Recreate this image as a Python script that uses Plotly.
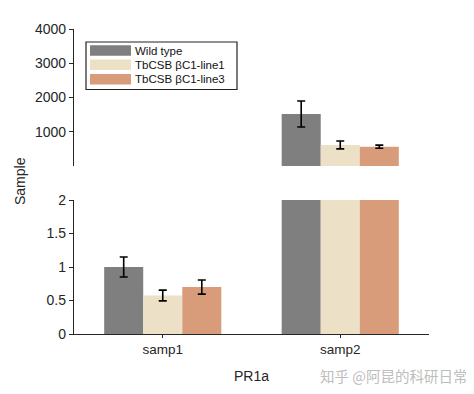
import plotly.graph_objects as go

categories = ["samp1", "samp2"]
series_names = ["Wild type", "TbCSB βC1-line1", "TbCSB βC1-line3"]
wild_type = [1.0, 1520]
line1 = [0.575, 615]
line3 = [0.70, 565]
wild_type_err = [0.15, 380]
line1_err = [0.08, 115]
line3_err = [0.105, 45]
colors = ["#7f7f7f", "#ece0c6", "#d99c7b"]

top_ticks = [1000, 2000, 3000, 4000]
bottom_ticks = [0, 0.5, 1, 1.5, 2]
bottom_ticktext = ["0", "0.5", "1", "1.5", "2"]

# page body has an 8px default margin: work in reference pixel coords, shift by OFF
OFF = 8
W, H = 474 - OFF, 394 - OFF
ML = 74 - OFF
MT = 29 - OFF
MR = W - (429 - OFF)
MB = H - (334 - OFF)
PW, PH = W - ML - MR, H - MT - MB

def px(x):
    return (x - OFF - ML) / PW

def py(y):
    return (H - MB - (y - OFF)) / PH

FONT = "Arial, Liberation Sans, Helvetica, sans-serif"
TXT = "#262626"

fig = go.Figure()
values = [wild_type, line1, line3]
errs = [wild_type_err, line1_err, line3_err]

for name, v, e, c in zip(series_names, values, errs, colors):
    fig.add_trace(go.Bar(
        x=categories, y=v, name=name, marker=dict(color=c, line=dict(width=0)),
        error_y=dict(type="data", array=e, color="black", thickness=1.6, width=4),
        xaxis="x", yaxis="y", showlegend=False, offsetgroup=name))
    vt = [val if val > 2 else None for val in v]
    et = [er if val > 2 else None for val, er in zip(v, e)]
    fig.add_trace(go.Bar(
        x=categories, y=vt, name=name, marker=dict(color=c, line=dict(width=0)),
        error_y=dict(type="data", array=et, color="black", thickness=1.6, width=4),
        xaxis="x2", yaxis="y2", showlegend=False, offsetgroup=name))

top_dom = [py(166), 1.0]
bot_dom = [0.0, py(200)]

fig.update_layout(
    width=W, height=H,
    margin=dict(l=ML, r=MR, t=MT, b=MB),
    paper_bgcolor="white", plot_bgcolor="white",
    barmode="group", bargap=0.34, bargroupgap=0,
    font=dict(family=FONT, size=13, color=TXT),
    xaxis=dict(type="category", categoryarray=categories, range=[-0.5, 1.5],
               showline=True, linecolor=TXT, linewidth=1.3,
               ticks="outside", ticklen=3, tickcolor=TXT,
               tickfont=dict(size=13.5, color=TXT), showgrid=False, zeroline=False,
               anchor="y",
               title=dict(text="PR1a", font=dict(size=14, color=TXT), standoff=14)),
    xaxis2=dict(type="category", categoryarray=categories, range=[-0.5, 1.5],
                matches="x", showline=False, showticklabels=False, ticks="",
                showgrid=False, zeroline=False, anchor="y2"),
    yaxis=dict(domain=bot_dom, range=[0, 2], tickvals=bottom_ticks, ticktext=bottom_ticktext,
               showline=True, linecolor=TXT, linewidth=1.3, ticks="outside", ticklen=4,
               tickcolor=TXT, tickfont=dict(size=14, color=TXT),
               showgrid=False, zeroline=False, anchor="x"),
    yaxis2=dict(domain=top_dom, range=[0, 4000], tickvals=top_ticks,
                showline=True, linecolor=TXT, linewidth=1.3, ticks="outside", ticklen=4,
                tickcolor=TXT, tickfont=dict(size=14, color=TXT),
                showgrid=False, zeroline=False, anchor="x2"),
)

fig.add_annotation(text="Sample", xref="paper", yref="paper", x=px(20), y=py(181),
                   textangle=-90, showarrow=False, font=dict(size=14, color=TXT),
                   xanchor="center", yanchor="middle")

fig.add_shape(type="rect", xref="paper", yref="paper",
              x0=px(86), x1=px(237), y0=py(89.5), y1=py(42),
              line=dict(color="#222222", width=1.2), fillcolor="white", layer="above")
row_centers = [50.5, 64.7, 79.2]
for name, c, yc in zip(series_names, colors, row_centers):
    fig.add_shape(type="rect", xref="paper", yref="paper",
                  x0=px(90), x1=px(131), y0=py(yc + 5.2), y1=py(yc - 5.2),
                  line=dict(width=0), fillcolor=c, layer="above")
    fig.add_annotation(text=name, xref="paper", yref="paper", x=px(133), y=py(yc),
                       xanchor="left", yanchor="middle", showarrow=False,
                       font=dict(size=11.5, color="#111111"))

fig.add_annotation(text="知乎 @阿昆的科研日常", xref="paper", yref="paper",
                   x=px(318), y=py(375), xanchor="left", yanchor="middle", showarrow=False,
                   font=dict(family="Noto Sans CJK SC", size=14.5, color="#bdbdbd"))

fig.write_html("out.html")
